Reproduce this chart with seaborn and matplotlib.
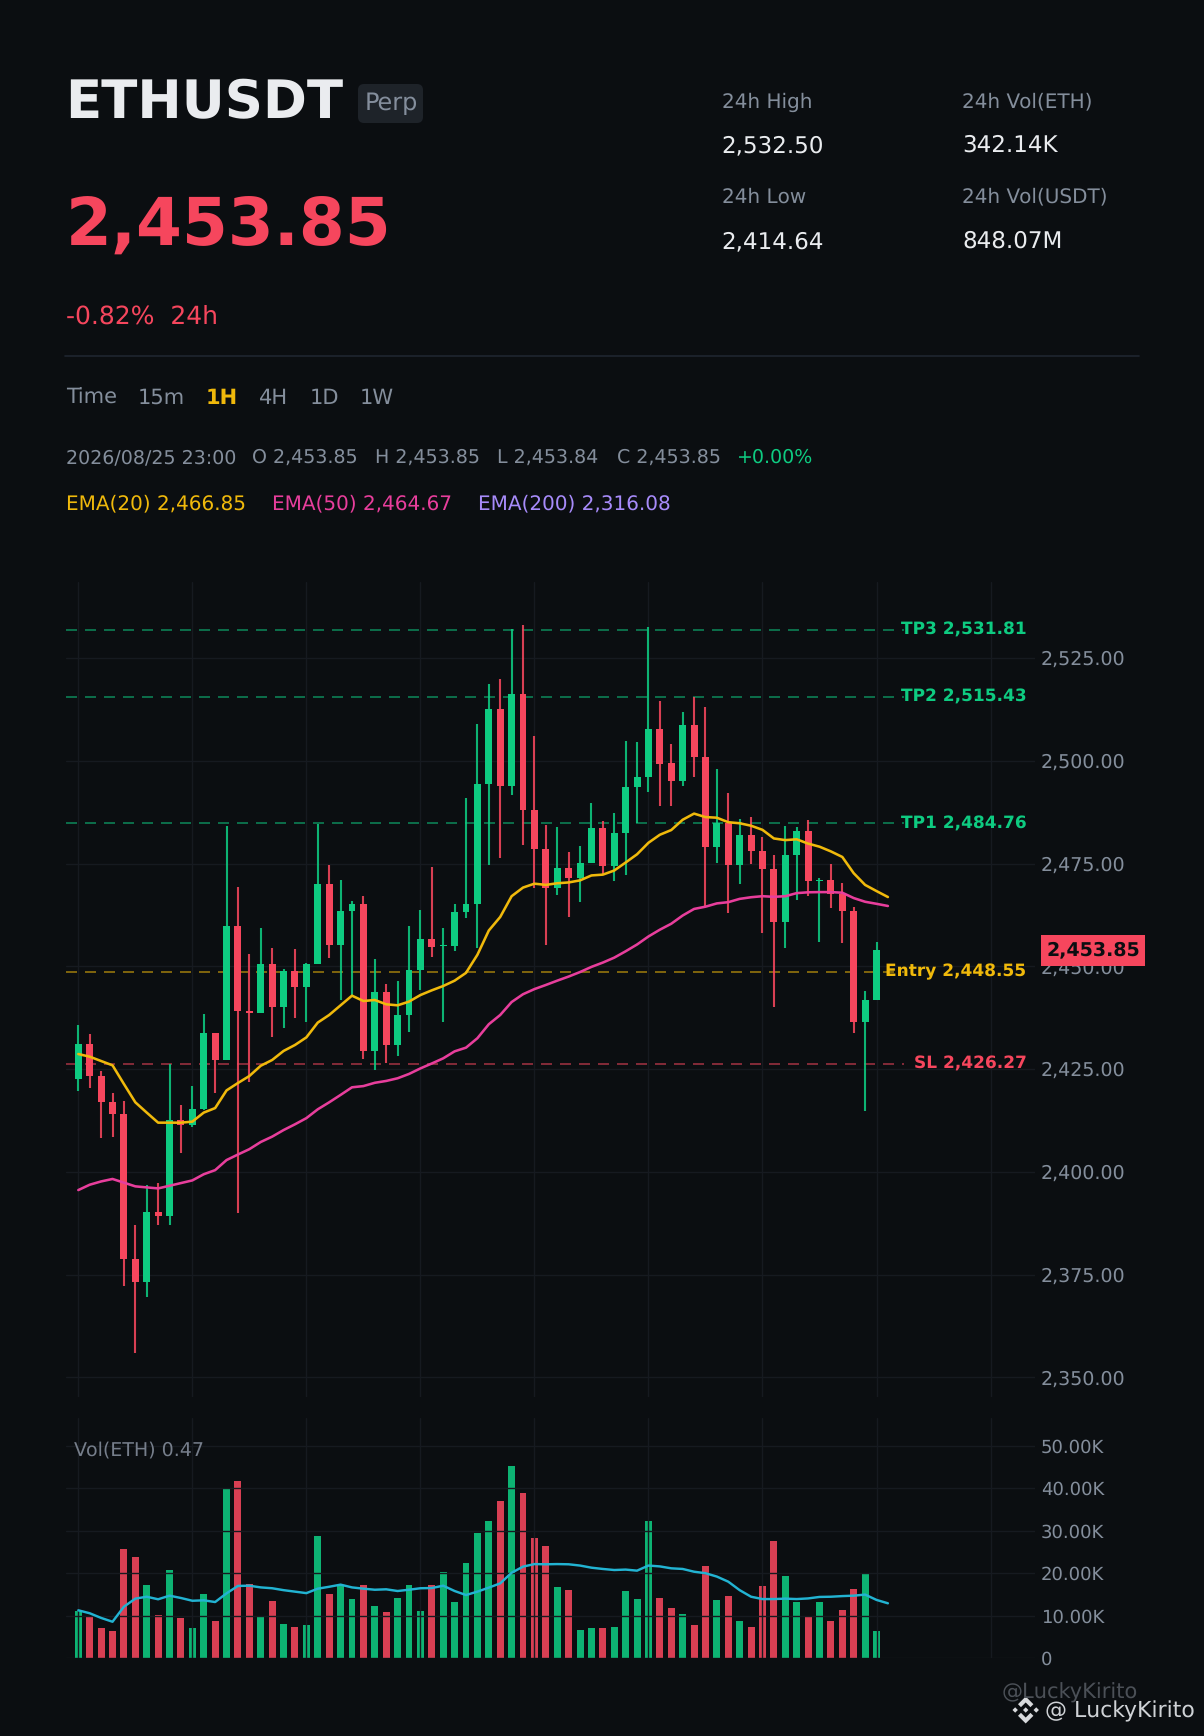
import numpy as np
import pandas as pd
import matplotlib
matplotlib.use("Agg")
import matplotlib.pyplot as plt
from matplotlib.patches import FancyBboxPatch, Rectangle
import seaborn as sns

BG = "#0b0e11"
GREEN = "#0ecb81"
RED = "#f6465d"
GRAY = "#848e9c"
WHITE = "#eaecef"
YELLOW = "#f0b90b"
PINK = "#e83e9c"
PURPLE = "#a78bfa"
CYAN = "#22b3d2"
GRID = "#161a20"

# candles
opens = [2422.65, 2431.08, 2423.3, 2417, 2414.05, 2378.8, 2373.2, 2390.2, 2389.2, 2412.6,
         2411.4, 2415.3, 2433.75, 2427.2, 2459.8, 2439.1, 2438.6, 2450.55, 2440.1, 2448.85,
         2444.95, 2450.55, 2470, 2455.2, 2463.45, 2465.15, 2429.4, 2443.7, 2430.85, 2438.15,
         2449.1, 2456.65, 2454.85, 2454.9, 2463.2, 2465.1, 2494.4, 2512.55, 2493.85, 2516.2,
         2488, 2478.5, 2469.15, 2473.9, 2471.4, 2475.1, 2483.65, 2474.4, 2482.4, 2493.6,
         2496, 2507.7, 2499.5, 2495, 2508.7, 2500.9, 2479, 2484.8, 2474.7, 2482,
         2478, 2473.7, 2460.8, 2477.1, 2482.9, 2470.7, 2471, 2467.55, 2463.45, 2436.5, 2441.8]
closes = [2431.08, 2423.3, 2417, 2414.05, 2378.8, 2373.2, 2390.2, 2389.2, 2412.6, 2411.4,
          2415.3, 2433.75, 2427.2, 2459.8, 2439.1, 2438.6, 2450.55, 2440.1, 2448.85, 2444.95,
          2450.55, 2470, 2455.2, 2463.45, 2465.15, 2429.4, 2443.7, 2430.85, 2438.15, 2449.1,
          2456.65, 2454.7, 2454.9, 2463.2, 2465.1, 2494.4, 2512.55, 2493.85, 2516.2, 2488,
          2478.5, 2469.15, 2473.9, 2471.4, 2475.1, 2483.65, 2474.4, 2482.4, 2493.6, 2496,
          2507.7, 2499.2, 2495, 2508.7, 2500.9, 2479, 2484.8, 2474.7, 2482, 2478,
          2473.7, 2460.8, 2477.1, 2482.9, 2470.7, 2470.9, 2467.55, 2463.45, 2436.5, 2441.8, 2453.85]
highs = [2435.7, 2433.5, 2424.5, 2419.2, 2417.2, 2387, 2396.8, 2397.3, 2426.2, 2416.2,
         2420.9, 2438.4, 2433.75, 2484.1, 2469.3, 2453, 2459.3, 2454.45, 2449.3, 2454.2,
         2450.8, 2484.6, 2474.6, 2471, 2465.9, 2467.1, 2451.75, 2445.7, 2446.4, 2459.8,
         2463.7, 2474.15, 2459.3, 2465.15, 2490.9, 2508.95, 2518.65, 2519.9, 2532, 2533,
         2506, 2484.4, 2483.9, 2477.8, 2479.3, 2489.75, 2485.3, 2487.3, 2504.85, 2504.6,
         2532.6, 2514.55, 2504.1, 2511.9, 2515.45, 2513, 2498, 2492.2, 2485.8, 2486.3,
         2481.45, 2477.1, 2484.15, 2483.9, 2485.55, 2471.5, 2474.85, 2470.2, 2464.45, 2444, 2455.9]
lows = [2419.7, 2420.45, 2408.2, 2408.45, 2372.2, 2355.9, 2369.5, 2387, 2387, 2404.6,
        2410.9, 2415, 2419.2, 2427.2, 2390, 2421.8, 2438.6, 2432.8, 2435, 2437.4,
        2436.4, 2450.55, 2452, 2441.8, 2443, 2427.4, 2424.75, 2426.45, 2428.2, 2434,
        2444.2, 2452.25, 2436.4, 2453.7, 2461.8, 2454.5, 2474.7, 2476.35, 2491.7, 2479.5,
        2469.15, 2455.15, 2467.3, 2462, 2465.6, 2475.1, 2472.4, 2470.7, 2472.15, 2484.8,
        2492.35, 2489, 2489, 2493.85, 2496, 2464.5, 2475.1, 2462.95, 2470, 2474.85,
        2458.1, 2440.1, 2454.5, 2466.1, 2467.1, 2455.9, 2464.2, 2455.65, 2433.8, 2414.85, 2441.8]

ema20 = [2428.65, 2428, 2426.95, 2425.9, 2421.35, 2416.9, 2414.4, 2411.95, 2411.95, 2411.95,
         2412.2, 2414.4, 2415.5, 2419.8, 2421.6, 2423.3, 2425.8, 2427.2, 2429.4, 2430.85,
         2432.7, 2436.3, 2438.15, 2440.5, 2442.85, 2441.55, 2441.8, 2440.75, 2440.5, 2441.4,
         2443, 2444.15, 2445.2, 2446.5, 2448.4, 2452.8, 2458.7, 2462, 2467.05, 2469.15,
         2470.1, 2469.8, 2470.2, 2470.4, 2470.9, 2472.1, 2472.3, 2473.3, 2475.25, 2477.25,
         2480.05, 2482, 2483.15, 2485.65, 2487.15, 2486.3, 2486.15, 2485.05, 2484.8, 2484.2,
         2483.2, 2481.1, 2480.7, 2480.9, 2479.85, 2479.1, 2477.95, 2476.6, 2472.65, 2469.8,
         2468.3, 2466.85]
ema50 = [2395.55, 2396.85, 2397.65, 2398.25, 2397.35, 2396.45, 2396.2, 2395.95, 2396.6, 2397.25,
         2397.9, 2399.4, 2400.4, 2402.85, 2404.2, 2405.5, 2407.25, 2408.55, 2410.15, 2411.55,
         2413.05, 2415.2, 2416.9, 2418.7, 2420.55, 2420.85, 2421.65, 2422.1, 2422.75, 2423.8,
         2425.15, 2426.35, 2427.6, 2429.3, 2430.2, 2432.5, 2435.9, 2438.15, 2441.3, 2443.2,
         2444.45, 2445.45, 2446.5, 2447.5, 2448.6, 2449.85, 2450.9, 2452.1, 2453.65, 2455.3,
         2457.25, 2458.9, 2460.35, 2462.35, 2463.95, 2464.5, 2465.3, 2465.6, 2466.4, 2466.8,
         2467.05, 2466.9, 2467.05, 2467.8, 2468, 2468.05, 2468.05, 2467.9, 2466.6, 2465.7,
         2465.2, 2464.67]

# volume in thousands of ETH
volumes = [11.1, 9.75, 7.1, 6.4, 25.7, 23.8, 17.2, 10.1, 20.75, 9.4,
           7.1, 15.1, 8.7, 40, 41.75, 17.45, 9.8, 13.45, 8, 7.3,
           7.8, 28.8, 15.1, 17.2, 13.9, 17.2, 12.25, 10.85, 14.15, 17.2,
           11.1, 17.2, 20.3, 13.2, 22.4, 29.5, 32.3, 37, 45.3, 38.9,
           28.3, 26.4, 16.75, 16, 6.6, 7.1, 7.1, 7.3, 15.8, 13.9,
           32.3, 14.15, 11.8, 10.4, 7.8, 21.7, 13.7, 14.6, 8.7, 7.3,
           17, 27.6, 19.3, 13.2, 9.7, 13.2, 8.7, 11.3, 16.3, 20, 6.4]
vol_ma = [11.25, 10.55, 9.45, 8.55, 12.1, 14, 14.45, 13.85, 14.7, 14.15,
          13.5, 13.6, 13.2, 15.25, 17, 17.05, 16.65, 16.45, 16, 15.65,
          15.3, 16.35, 16.8, 17.3, 16.65, 16.35, 16.1, 16.2, 15.8, 16.1,
          16.45, 16.5, 17.05, 15.8, 14.85, 15.65, 16.6, 17.6, 20.1, 21.55,
          22.15, 22.1, 22.15, 22.1, 21.8, 21.3, 21, 20.75, 20.85, 20.6,
          21.8, 21.6, 21.15, 21, 20.35, 20, 19.2, 18, 16, 14.45,
          13.9, 13.9, 14, 13.9, 14.05, 14.4, 14.45, 14.6, 14.7, 14.95,
          13.7, 12.9]

price_ticks = [2350, 2375, 2400, 2425, 2450, 2475, 2500, 2525]
vol_ticks = [0, 10, 20, 30, 40, 50]
time_ticks = [0, 10, 20, 30, 40, 50, 60, 70, 80]
levels = [("TP3", 2531.81, GREEN), ("TP2", 2515.43, GREEN), ("TP1", 2484.76, GREEN),
          ("Entry", 2448.55, YELLOW), ("SL", 2426.27, RED)]
last_price = 2453.85

W, H = 1204, 1736


def px_axes(fig, left, top, right, bottom):
    # axes box given in image pixels
    return fig.add_axes([left / W, 1 - bottom / H, (right - left) / W, (bottom - top) / H])


def style_panel(ax, yticks, ylabels, label_size):
    ax.set_facecolor("none")
    ax.set_xlim(-1.08, 83.9)
    ax.set_xticks(time_ticks)
    ax.set_xticklabels([])
    ax.set_yticks(yticks)
    ax.set_yticklabels(ylabels)
    ax.yaxis.tick_right()
    ax.tick_params(axis="both", length=0, pad=4.2, labelsize=label_size, labelcolor=GRAY)
    ax.grid(True, color=GRID, linewidth=1.0)
    ax.set_xlabel("")
    ax.set_ylabel("")
    sns.despine(ax=ax, left=True, bottom=True, right=True, top=True)


sns.set_theme(style="dark", rc={"figure.facecolor": BG, "axes.facecolor": BG})
plt.rcParams["font.family"] = ["DejaVu Sans"]
plt.rcParams["text.hinting"] = "no_hinting"
plt.rcParams["text.hinting_factor"] = 1

fig = plt.figure(figsize=(W / 100, H / 100), dpi=100, facecolor=BG)

# price panel
ax = px_axes(fig, 66, 582, 1035, 1397)
idx = np.arange(len(opens))
o = np.array(opens)
c = np.array(closes)
up = c >= o
colors = np.where(up, GREEN, RED)
ax.set_axisbelow(True)
for name, value, col in levels:
    ax.plot([-1.08, 72.45], [value, value], color=col, alpha=0.5, linewidth=1.44,
            linestyle=(0, (5.5, 4.0)), dash_capstyle="butt", zorder=1.5)
ax.vlines(idx, lows, highs, colors=colors, linewidth=1.5, alpha=0.88, zorder=2)
body = np.maximum(np.abs(c - o), 0.4)
ax.bar(idx, body, bottom=np.minimum(o, c), width=0.61, color=colors, linewidth=0, zorder=2.2)

ema_df = pd.DataFrame({"i": np.arange(len(ema20)), "ema20": ema20, "ema50": ema50})
sns.lineplot(data=ema_df, x="i", y="ema50", color=PINK, linewidth=1.85, ax=ax, estimator=None, zorder=3)
sns.lineplot(data=ema_df, x="i", y="ema20", color=YELLOW, linewidth=1.85, ax=ax, estimator=None, zorder=3.1)
ax.set_ylim(2345.2, 2543.5)
style_panel(ax, price_ticks, [f"{t:,.2f}" for t in price_ticks], 13.55)

for name, value, col in levels:
    ax.text(83.16, value, f"{name} {value:,.2f}", color=col, fontsize=12, fontweight="bold",
            ha="right", va="center", zorder=5)

# volume panel
ax_vol = px_axes(fig, 66, 1418, 1035, 1658)
vol_df = pd.DataFrame({"i": idx, "vol": volumes, "side": np.where(up, "up", "down")})
sns.barplot(data=vol_df, x="i", y="vol", hue="side", palette={"up": GREEN, "down": RED},
            native_scale=True, dodge=False, width=0.61, alpha=0.88, linewidth=0,
            saturation=1, legend=False, ax=ax_vol)
ma_df = pd.DataFrame({"i": np.arange(len(vol_ma)), "ma": vol_ma})
sns.lineplot(data=ma_df, x="i", y="ma", color=CYAN, linewidth=1.75, ax=ax_vol, estimator=None, zorder=3)
ax_vol.set_ylim(0, 56.6)
style_panel(ax_vol, vol_ticks, ["0" if t == 0 else f"{t:.2f}K" for t in vol_ticks], 13.0)
ax_vol.set_axisbelow(False)

# header and overlays, drawn in image pixels
ui = fig.add_axes([0, 0, 1, 1], facecolor="none", zorder=10)
ui.set_xlim(0, W)
ui.set_ylim(H, 0)
ui.axis("off")


def label(x, y, s, color=GRAY, size=14.5, weight="normal", ha="left"):
    ui.text(x, y, s, color=color, fontsize=size, fontweight=weight, ha=ha, va="baseline")


label(65, 118, "ETHUSDT", WHITE, 37.9, "bold")
ui.add_patch(FancyBboxPatch((358, 84), 65, 39, boxstyle="round,pad=0,rounding_size=6",
                            facecolor="#1e2329", edgecolor="none"))
label(364.5, 110, "Perp", GRAY, 17)
label(66, 245.5, "2,453.85", RED, 47.7, "bold")
label(66, 324, "-0.82%  24h", RED, 18.1)
ui.plot([65, 1139], [356, 356], color="#1f2530", linewidth=1.2)

label(722, 107.5, "24h High")
label(721, 152, "2,532.50", WHITE, 16.7)
label(722, 202.5, "24h Low")
label(721, 248, "2,414.64", WHITE, 16.7)
label(962, 107.5, "24h Vol(ETH)")
label(962, 152, "342.14K", WHITE, 16.7)
label(962, 202.5, "24h Vol(USDT)")
label(962, 248, "848.07M", WHITE, 16.7)

label(66, 403.5, "Time", GRAY, 14.8)
label(138, 403.5, "15m", GRAY, 14.8)
label(206, 403.5, "1H", YELLOW, 14.8, "bold")
label(259, 403.5, "4H", GRAY, 14.8)
label(310, 403.5, "1D", GRAY, 14.8)
label(360, 403.5, "1W", GRAY, 14.8)

label(66, 463, "2026/08/25 23:00", GRAY, 13.4)
label(252, 463, "O 2,453.85", GRAY, 13.4)
label(375, 463, "H 2,453.85", GRAY, 13.4)
label(497, 463, "L 2,453.84", GRAY, 13.4)
label(617, 463, "C 2,453.85", GRAY, 13.4)
label(737, 463, "+0.00%", GREEN, 13.4)

label(66, 509.5, "EMA(20) 2,466.85", YELLOW, 14.6)
label(272, 509.5, "EMA(50) 2,464.67", PINK, 14.6)
label(478, 509.5, "EMA(200) 2,316.08", PURPLE, 14.6)

label(74, 1456, "Vol(ETH) 0.47", "#767e8b", 13.8)

# last price tag over the axis labels
ui.add_patch(Rectangle((1041, 935), 104, 31, facecolor=RED, edgecolor="none"))
ui.text(1093, 950.5, f"{last_price:,.2f}", color=BG, fontsize=14, fontweight="bold",
        ha="center", va="center")

# watermarks
label(1002, 1699, "@LuckyKirito", "#4b5057", 14.9)
label(1045, 1717.5, "@ LuckyKirito", "#cfd2d6", 15.5)

# exchange logo
cx, cy, r = 1025.7, 1710, 13.5
logo = "#d8dadd"
for dx in (-0.78, 0, 0.78):
    ui.fill([cx + (dx - 0.2) * r, cx + dx * r, cx + (dx + 0.2) * r, cx + dx * r],
            [cy, cy - 0.2 * r, cy, cy + 0.2 * r], color=logo, linewidth=0)
for s in (-1, 1):
    ui.fill(np.array([0, 0.57, 0.35, 0, -0.35, -0.57]) * r + cx,
            np.array([1, 0.43, 0.21, 0.56, 0.21, 0.43]) * s * r + cy, color=logo, linewidth=0)

fig.savefig("out.png", dpi=100, facecolor=BG)
